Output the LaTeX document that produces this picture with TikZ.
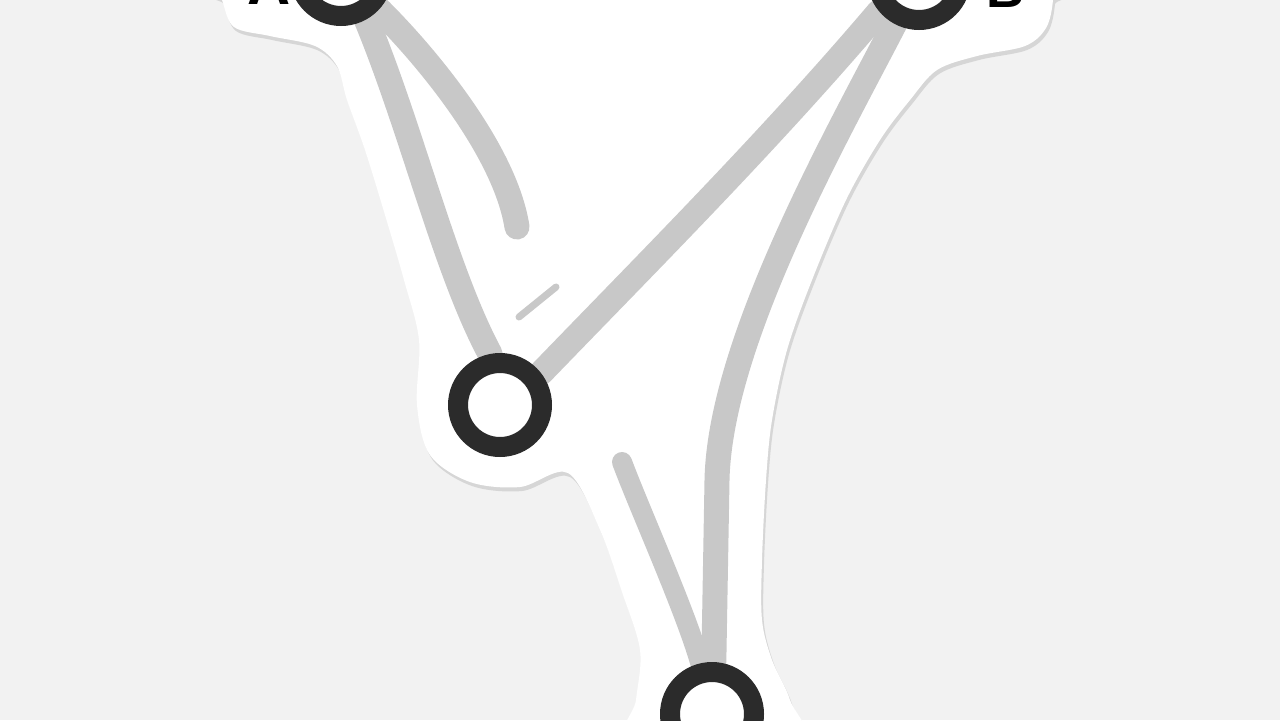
\documentclass[tikz,border=0pt]{standalone}
\usepackage{fontspec}
\setmainfont{Liberation Sans}
\pgfdeclarelayer{bg}
\pgfdeclarelayer{strokes}
\pgfsetlayers{bg,strokes,main}
\definecolor{bgc}{HTML}{F2F2F2}
\definecolor{ringc}{HTML}{2B2B2B}
\definecolor{linec}{HTML}{C8C8C8}
\definecolor{shadowc}{HTML}{D6D6D6}
\tikzset{
  ring/.style={circle, draw=ringc, line width=0.4cm, minimum size=1.68cm, inner sep=0pt, fill=white},
  stroke/.style={draw=linec, line width=0.5cm, line cap=round, line join=round},
  thinstroke/.style={draw=linec, line width=0.14cm, line cap=round},
  lbl/.style={font=\bfseries, text=black, inner sep=0pt, anchor=base}
}
\begin{document}
\begin{tikzpicture}[x=0.02cm, y=-0.02cm]
\useasboundingbox (0,0) rectangle (1280,720);
\def\blob{plot[smooth cycle, tension=0.55] coordinates {
 (212,-30) (222,0) (234,27) (270,36) (315,46) (337,66) (347,100) (365,150)
 (385,215) (404,280) (419,340) (417,405) (430,455) (470,482) (520,487)
 (568,473) (600,530) (622,592) (640,650) (636,700) (630,750)
 (800,750) (790,700) (772,660) (762,620) (762,560) (766,480) (772,420)
 (787,350) (812,280) (846,200) (880,140) (910,100) (937,70) (977,56)
 (1025,46) (1046,28) (1053,0) (1052,-30)}}
\begin{pgfonlayer}{bg}
\fill[bgc] (0,0) rectangle (1280,720);
\fill[shadowc] [shift={(2,4)}] \blob;
\fill[white] \blob;
\end{pgfonlayer}
% circles
\node[ring] (cA) at (341,-26) {};
\node[ring] (cB) at (919,-22) {};
\node[ring] (cC) at (500,405) {};
\node[ring] (cD) at (712,714) {};
\node[lbl, font=\bfseries\fontsize{34}{34}\selectfont] (lA) at (269,5) {A};
\node[lbl, font=\bfseries\fontsize{30}{30}\selectfont] (lB) at (1006,8) {B};
\coordinate (endA) at (517,227);
\coordinate (startD) at (622,462);
\coordinate (t1) at (519,317);
\coordinate (t2) at (556,287);
\coordinate (bendBD) at (717,480);
\begin{pgfonlayer}{strokes}
\draw[stroke] (cA.-61) .. controls (412,130) and (445,270) .. (cC.101);
\draw[stroke] (cA.-43) .. controls (425,55) and (505,150) .. (endA);
\draw[stroke] (cC.38) .. controls (650,260) and (770,140) .. (cB.-140);
\draw[stroke] (cB.-118) .. controls (840,130) and (720,340) .. (bendBD) -- (cD.88);
\draw[stroke, line width=0.4cm] (startD) .. controls (640,510) and (685,610) .. (cD.103);
\draw[thinstroke] (t1) -- (t2);
\end{pgfonlayer}
\end{tikzpicture}
\end{document}
